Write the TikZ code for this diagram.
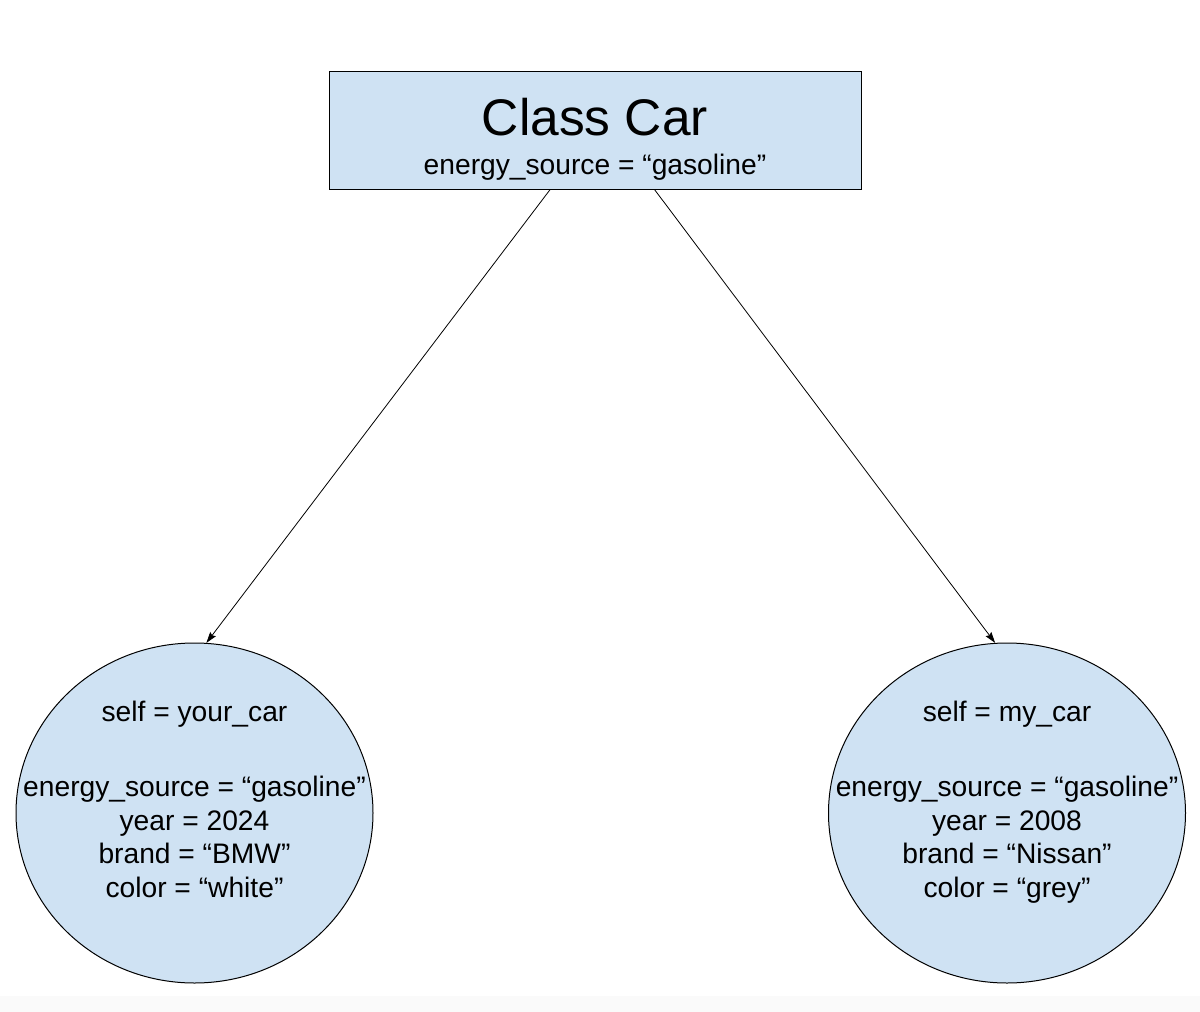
\documentclass[tikz,border=0pt]{standalone}
\usepackage{fontspec}
\setmainfont{Liberation Sans}
\usepackage{xcolor}
\usetikzlibrary{shapes.geometric,arrows.meta}
\definecolor{objblue}{RGB}{207,226,243}

\begin{document}
\begin{tikzpicture}[x=1pt,y=-1pt,
  box/.style={draw,fill=objblue,line width=0.8pt,minimum width=532pt,minimum height=118pt,inner sep=0pt},
  obj/.style={ellipse,draw,fill=objblue,line width=1pt,minimum width=357pt,minimum height=340pt,inner sep=0pt},
  txt/.style={align=center,inner sep=0pt,font=\fontsize{28.2}{33.5}\selectfont},
  link/.style={line width=0.8pt,-{Stealth[length=11pt,width=7pt,inset=1.5pt]}}]
  \useasboundingbox (0,0) rectangle (1200,1012);
  \fill[black!2] (0,996) rectangle (1200,1012);
  \node[box] (cls) at (595,130) {};
  \node[anchor=base,inner sep=0pt,font=\fontsize{51.5}{60}\selectfont] (title) at (595,135) {Class Car};
  \node[anchor=base,txt] (attr) at (595,174) {energy\_source = “gasoline”};
  \node[obj] (your) at (194.5,813) {}; \node[obj] (my) at (1007,813) {};
  % base = last line
  \node[txt,anchor=base] (yourtxt) at (194.5,897) {self = your\_car\\[42pt]energy\_source = “gasoline”\\year = 2024\\brand = “BMW”\\color = “white”};
  \node[txt,anchor=base] (mytxt) at (1007,897) {self = my\_car\\[42pt]energy\_source = “gasoline”\\year = 2008\\brand = “Nissan”\\color = “grey”};
  \draw[link] (cls.-127) -- (your.86);
  \draw[link] (cls.-45.5) -- (my.94);
\end{tikzpicture}
\end{document}
